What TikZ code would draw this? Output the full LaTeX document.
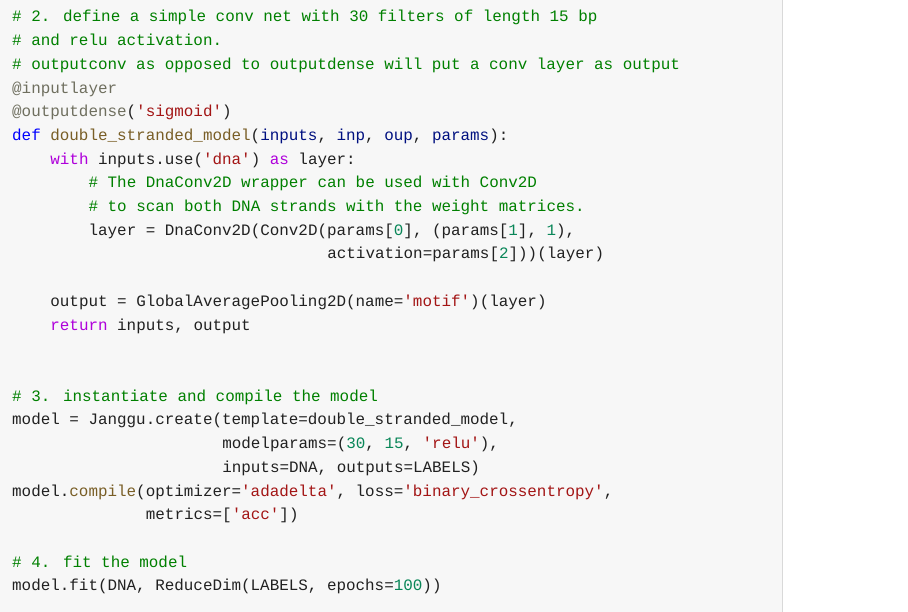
\documentclass[tikz,border=0pt]{standalone}
\usepackage{fontspec}
\newfontfamily\code{Liberation Mono}
\definecolor{bgc}{HTML}{F7F7F7}
\definecolor{txt}{HTML}{212121}
\definecolor{cmc}{HTML}{008000}
\definecolor{stc}{HTML}{A31515}
\definecolor{kwc}{HTML}{0000FF}
\definecolor{fnc}{HTML}{795E26}
\definecolor{dec}{HTML}{6F6F5F}
\definecolor{prc}{HTML}{001080}
\definecolor{ctc}{HTML}{AF00DB}
\definecolor{nmc}{HTML}{098658}
\newcommand\q{{\char39}}
\newcommand\cm[1]{\textcolor{cmc}{#1}}
\newcommand\st[1]{\textcolor{stc}{\q#1\q}}
\newcommand\kw[1]{\textcolor{kwc}{#1}}
\newcommand\fn[1]{\textcolor{fnc}{#1}}
\newcommand\dc[1]{\textcolor{dec}{#1}}
\newcommand\pr[1]{\textcolor{prc}{#1}}
\newcommand\ct[1]{\textcolor{ctc}{#1}}
\newcommand\nm[1]{\textcolor{nmc}{#1}}
\begin{document}
\begin{tikzpicture}[x=1pt,y=-1pt,
  ln/.style={anchor=base west,inner sep=0pt,text=txt,font=\code\fontsize{15.9}{19}\selectfont}]
\useasboundingbox (0,0) rectangle (908,612);
\fill[bgc] (0,0) rectangle (782,612);
\fill[white] (782,0) rectangle (908,612);
\draw[gray!30,line width=1pt] (782,0) -- (782,612);
\def\L#1#2#3{\node[ln] (l#1) at ({12+9.55*#2},{22+23.7*#1}) {#3};}
\L{0}{0}{\cm{\# 2. define a simple conv net with 30 filters of length 15 bp}}
\L{1}{0}{\cm{\# and relu activation.}}
\L{2}{0}{\cm{\# outputconv as opposed to outputdense will put a conv layer as output}}
\L{3}{0}{\dc{@inputlayer}}
\L{4}{0}{\dc{@outputdense}(\st{sigmoid})}
\L{5}{0}{\kw{def} \fn{double\_stranded\_model}(\pr{inputs}, \pr{inp}, \pr{oup}, \pr{params}):}
\L{6}{4}{\ct{with} inputs.use(\st{dna}) \ct{as} layer:}
\L{7}{8}{\cm{\# The DnaConv2D wrapper can be used with Conv2D}}
\L{8}{8}{\cm{\# to scan both DNA strands with the weight matrices.}}
\L{9}{8}{layer = DnaConv2D(Conv2D(params[\nm{0}], (params[\nm{1}], \nm{1}),}
\L{10}{33}{activation=params[\nm{2}]))(layer)}
\L{12}{4}{output = GlobalAveragePooling2D(name=\st{motif})(layer)}
\L{13}{4}{\ct{return} inputs, output}
\L{16}{0}{\cm{\# 3. instantiate and compile the model}}
\L{17}{0}{model = Janggu.create(template=double\_stranded\_model,}
\L{18}{22}{modelparams=(\nm{30}, \nm{15}, \st{relu}),}
\L{19}{22}{inputs=DNA, outputs=LABELS)}
\L{20}{0}{model.\fn{compile}(optimizer=\st{adadelta}, loss=\st{binary\_crossentropy},}
\L{21}{14}{metrics=[\st{acc}])}
\L{23}{0}{\cm{\# 4. fit the model}}
\L{24}{0}{model.fit(DNA, ReduceDim(LABELS, epochs=\nm{100}))}
\end{tikzpicture}
\end{document}
